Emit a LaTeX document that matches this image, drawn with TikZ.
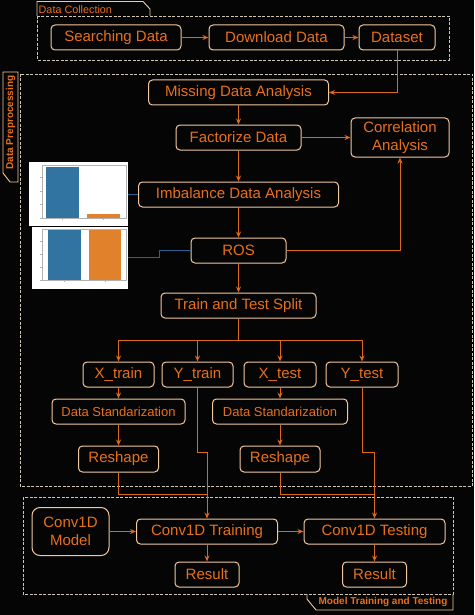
\documentclass[tikz,border=0pt]{standalone}
\usepackage{fontspec}
\setmainfont{Liberation Sans}
\usetikzlibrary{arrows.meta}
\definecolor{bg}{HTML}{050505}
\definecolor{txt}{HTML}{E8701A}
\definecolor{edge}{HTML}{F2C9A0}
\definecolor{arrc}{HTML}{D9691E}
\definecolor{dsh}{HTML}{CFC6B8}
\definecolor{bblue}{HTML}{3274A1}
\definecolor{borange}{HTML}{E1812C}
\definecolor{lnblue}{HTML}{2F5F8F}
\tikzset{
  box/.style={draw=edge, line width=1pt, rounded corners=4pt, text=txt, inner sep=0pt, align=center,
    font=\fontsize{15}{17.7}\selectfont},
  smallbox/.style={box, font=\fontsize{13}{15}\selectfont},
  arr/.style={draw=arrc, line width=1pt, -{Stealth[length=6pt,width=5pt]}},
  ln/.style={draw=arrc, line width=1pt},
  region/.style={draw=dsh, line width=0.9pt, dash pattern=on 3pt off 1.5pt},
  tab/.style={draw=edge, line width=0.9pt},
  tabtext/.style={text=txt, inner sep=0pt, font=\fontsize{10.8}{12}\selectfont},
  tabbold/.style={text=txt, inner sep=0pt, font=\fontsize{10}{12}\selectfont\bfseries},
  blueln/.style={draw=lnblue, line width=1pt},
  axisln/.style={draw=black!30, line width=0.4pt},
}
\begin{document}
\begin{tikzpicture}[x=1pt,y=-1pt]
\useasboundingbox (0,0) rectangle (474,615);
\fill[bg] (0,0) rectangle (474,615);

% regions
\draw[region] (37,16) rectangle (449,60);
\draw[region] (20,74) rectangle (472,486);
\draw[region] (23,497) rectangle (453,594);

% tabs
\draw[tab] (37,16) -- (37,1.5) -- (143,1.5) -- (150,9) -- (150,16);
\node[tabtext, anchor=west] (tdc) at (38.5,10) {Data Collection};
\draw[tab] (18,72) -- (3,72) -- (3,173) -- (10,182) -- (18,182) -- cycle;
\node[tabbold, rotate=90] (tdp) at (10.5,122.5) {Data Preprocessing};
\draw[tab] (307,594) -- (307,599) -- (316,610) -- (453,610) -- (453,594);
\node[tabbold] (tmt) at (383,602) {Model Training and Testing};

% data collection
\node[box, minimum width=130, minimum height=25] (sd) at (116,37.5) {Searching Data};
\node[box, minimum width=135, minimum height=25] (dd) at (276.5,37.5) {Download Data};
\node[box, minimum width=76, minimum height=25] (ds) at (397,37.5) {Dataset};

% preprocessing
\node[box, minimum width=180, minimum height=25] (mda) at (238.5,92.5) {Missing Data Analysis};
\node[box, minimum width=125, minimum height=25] (fd) at (238.5,137.5) {Factorize Data};
\node[box, minimum width=98, minimum height=39] (ca) at (400,137.5) {Correlation\\Analysis};
\node[box, minimum width=200, minimum height=25] (ida) at (238.5,194.5) {Imbalance Data Analysis};
\node[box, minimum width=95, minimum height=25] (ros) at (238.5,250.5) {ROS};
\node[box, minimum width=155, minimum height=25] (tts) at (238.5,305.5) {Train and Test Split};

\node[box, minimum width=71, minimum height=25] (xtr) at (118.5,374.5) {X\_train};
\node[box, minimum width=71, minimum height=25] (ytr) at (197.5,374.5) {Y\_train};
\node[box, minimum width=72, minimum height=25] (xte) at (280,374.5) {X\_test};
\node[box, minimum width=72, minimum height=25] (yte) at (362,374.5) {Y\_test};
\node[smallbox, minimum width=133, minimum height=25] (dsl) at (118.5,411.5) {Data Standarization};
\node[smallbox, minimum width=135, minimum height=25] (dsr) at (280,411.5) {Data Standarization};
\node[box, minimum width=80, minimum height=26] (rsl) at (118.5,459) {Reshape};
\node[box, minimum width=80, minimum height=26] (rsr) at (280,459) {Reshape};

% model training
\node[box, rounded corners=8pt, minimum width=77, minimum height=48] (cm) at (70.5,531.5) {Conv1D\\Model};
\node[box, minimum width=141, minimum height=25] (ctr) at (207,531.5) {Conv1D Training};
\node[box, minimum width=141, minimum height=25] (cte) at (374.5,531.5) {Conv1D Testing};
\node[box, minimum width=64, minimum height=25] (rl) at (207,574.5) {Result};
\node[box, minimum width=64, minimum height=25] (rr) at (374.5,574.5) {Result};

% charts
\fill[white] (29,162) rectangle (128,226);
\draw[axisln] (42,165) rectangle (126,218);
\foreach \yy in {218,204.5,191,177.5} {\draw[axisln] (40,\yy) -- (42,\yy);}
\foreach \xx in {62.5,103.5} {\draw[axisln] (\xx,218) -- (\xx,220);}
\fill[bblue] (46,167) rectangle (79,218);
\fill[borange] (87,214) rectangle (120,218);
\fill[white] (32,227) rectangle (128,289);
\draw[axisln] (42,229) rectangle (126,280);
\foreach \yy in {280,267,254,241} {\draw[axisln] (40,\yy) -- (42,\yy);}
\foreach \xx in {64.5,105} {\draw[axisln] (\xx,280) -- (\xx,282);}
\fill[bblue] (48,230) rectangle (81,280);
\fill[borange] (89,230) rectangle (121,280);

% blue connectors
\coordinate (c1) at (128,194.5);
\coordinate (c2) at (128,257);
\coordinate (c3) at (159,257);
\draw[blueln] (c1) -- (ida.west);
\draw[blueln] (c2) -- (c3) |- (ros.west);

% connectors
\draw[arr] (sd) -- (dd);
\draw[arr] (dd) -- (ds);
\draw[arr] (ds.south) |- (mda.east);
\draw[arr] (mda) -- (fd);
\draw[arr] (fd) -- (ida);
\draw[arr] (ida) -- (ros);
\draw[arr] (ros) -- (tts);
\draw[arr] (fd) -- (ca);
\draw[arr] (ros.east) -| (ca.south);

\coordinate (sp) at (238.5,340);
\draw[ln] (tts.south) -- (sp);
\draw[arr] (sp) -| (xtr.north);
\draw[arr] (sp) -| (ytr.north);
\draw[arr] (sp) -| (xte.north);
\draw[arr] (sp) -| (yte.north);

\draw[arr] (xtr) -- (dsl);
\draw[arr] (dsl) -- (rsl);
\draw[arr] (xte) -- (dsr);
\draw[arr] (dsr) -- (rsr);

\coordinate (j1) at (207,452);
\coordinate (j2) at (374.5,452);
\coordinate (k1) at (207,494);
\coordinate (k2) at (374.5,494);
\draw[arr] (ytr.south) |- (j1) -- (ctr.north);
\draw[arr] (yte.south) |- (j2) -- (cte.north);
\draw[ln] (rsl.south) |- (k1);
\draw[ln] (rsr.south) |- (k2);

\draw[arr] (cm) -- (ctr);
\draw[arr] (ctr) -- (cte);
\draw[arr] (ctr) -- (rl);
\draw[arr] (cte) -- (rr);
\end{tikzpicture}
\end{document}
